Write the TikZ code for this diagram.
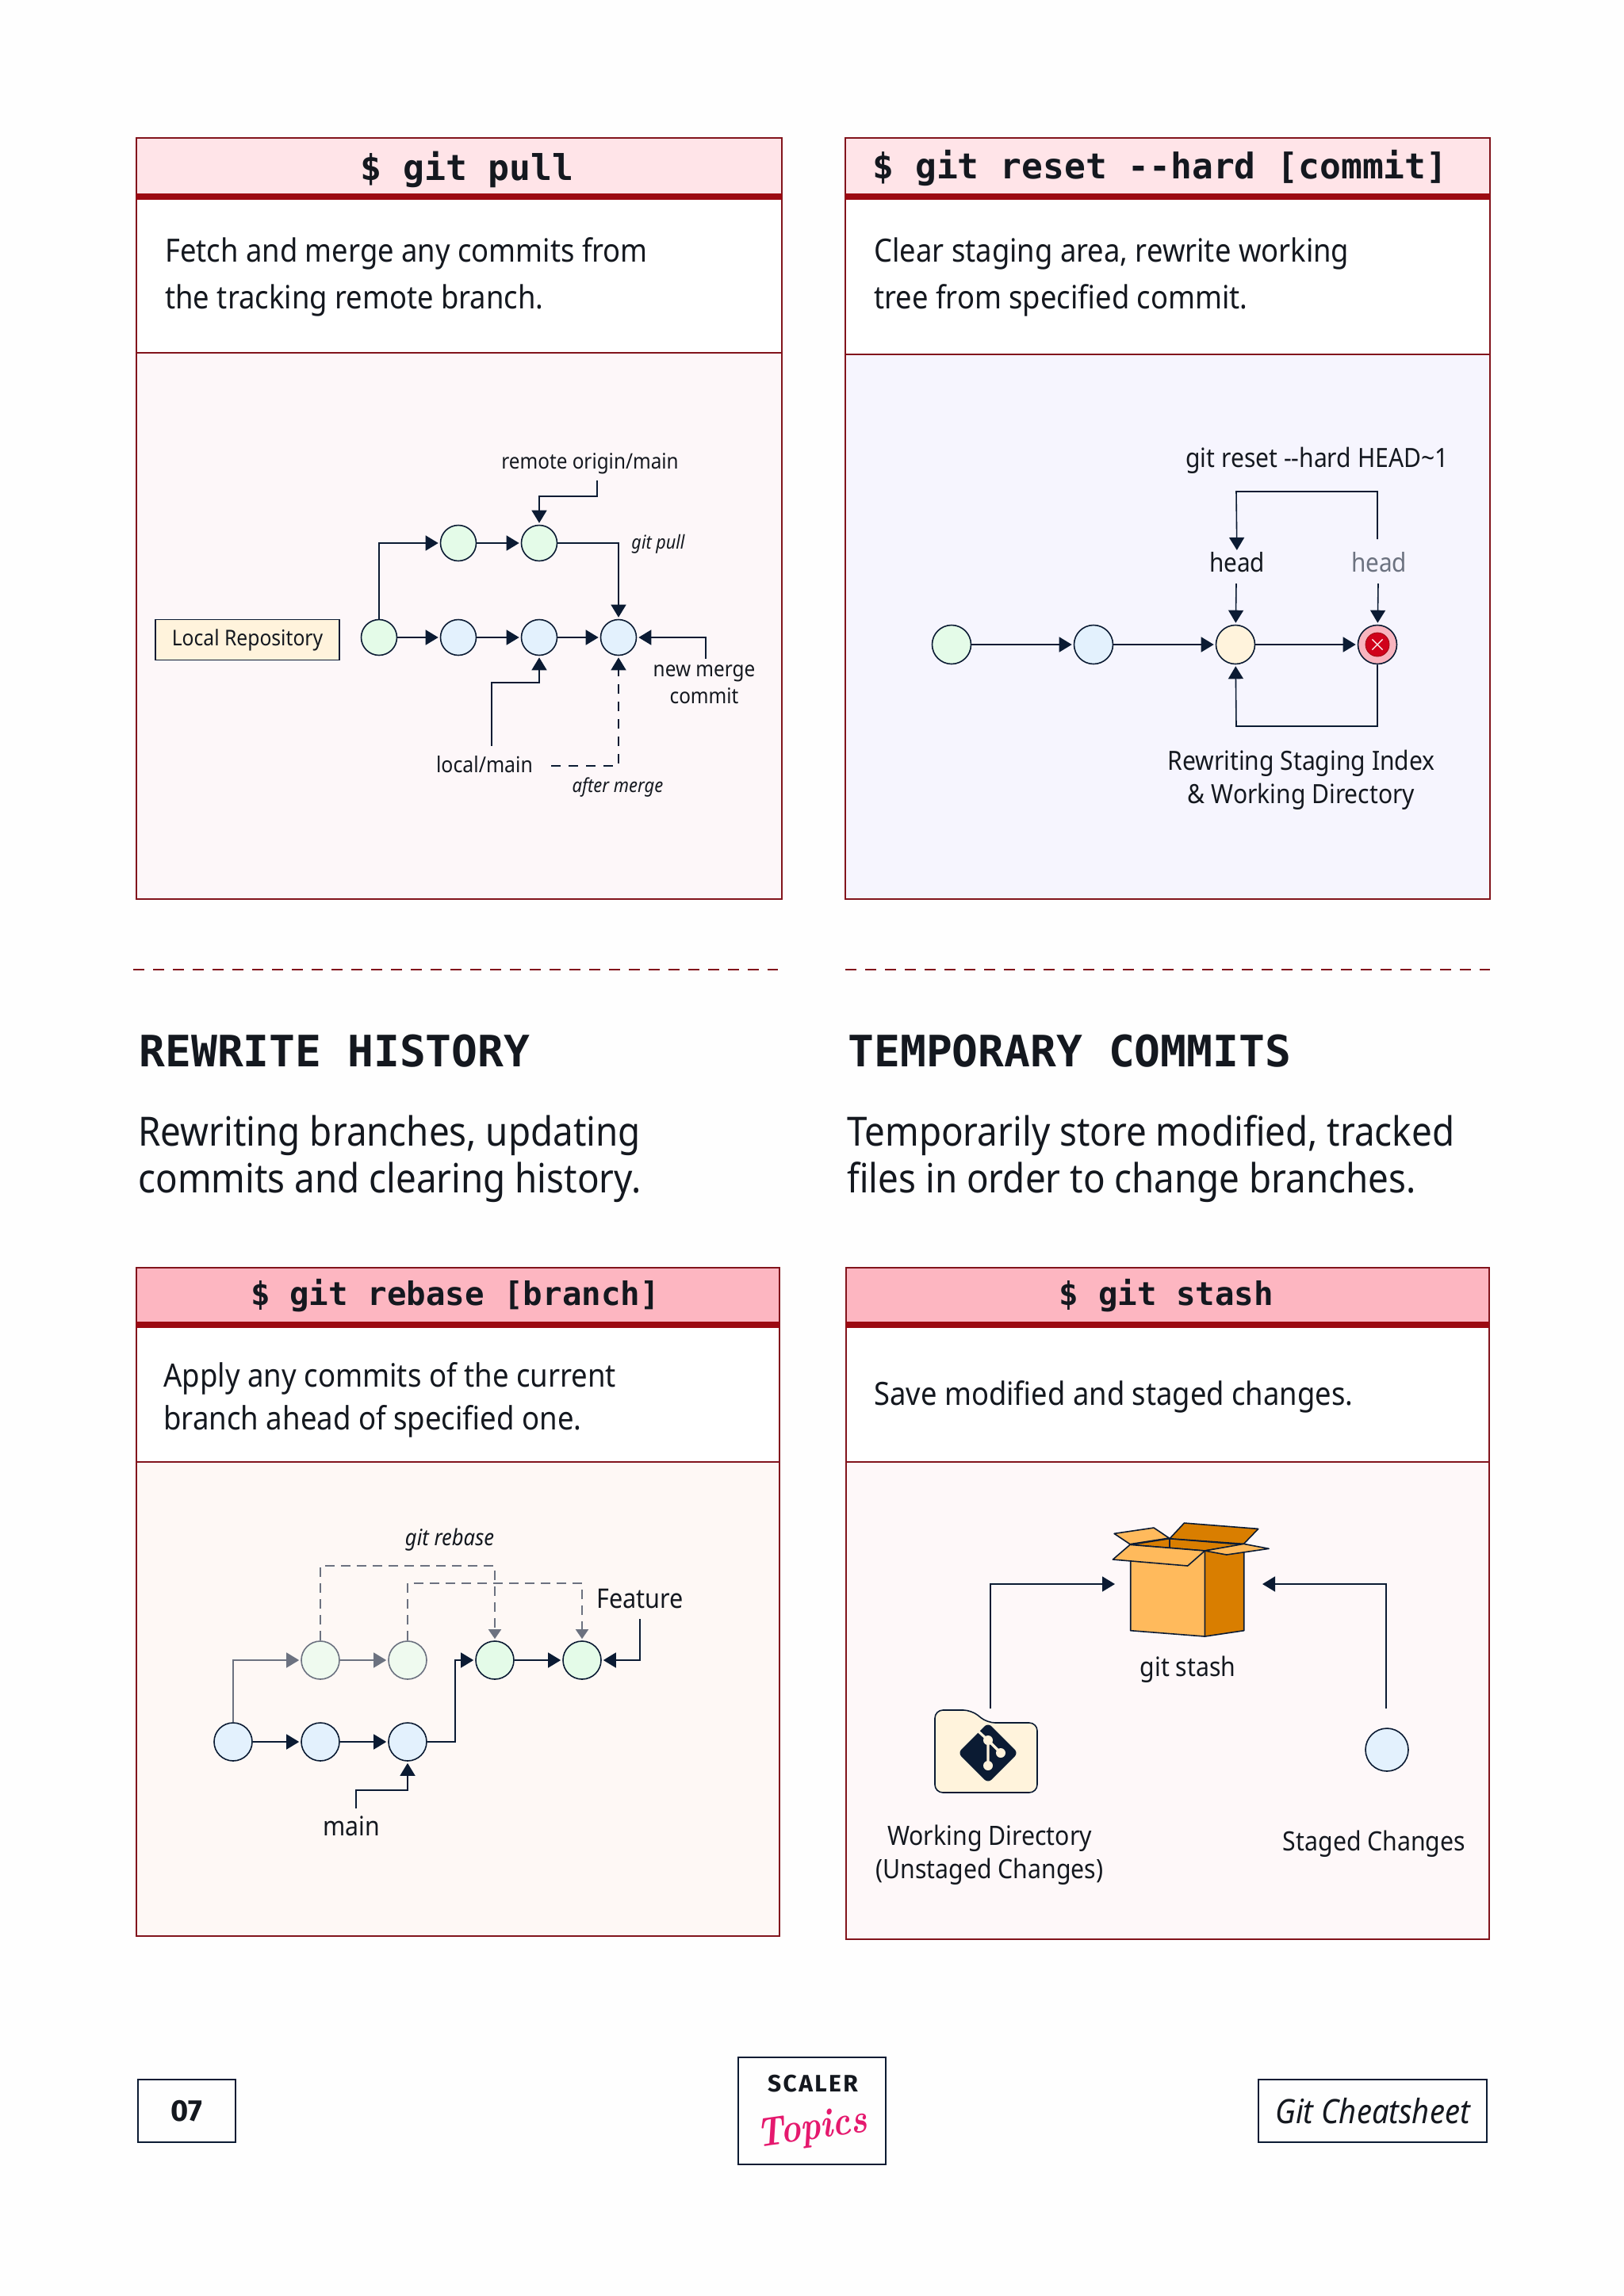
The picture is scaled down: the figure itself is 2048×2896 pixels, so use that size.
\documentclass[tikz,border=0pt]{standalone}
\usepackage{fontspec}
\setmainfont[FakeStretch=0.9]{Noto Sans}
\newfontfamily\codefont{DejaVu Sans Mono}
\newfontfamily\topicfont{Latin Modern Roman}
\newfontfamily\strongfont{Fira Sans}
\usetikzlibrary{arrows.meta,shapes.misc}
\definecolor{navy}{HTML}{0B1B33}
\definecolor{ink}{HTML}{14181F}
\definecolor{wine}{HTML}{82141C}
\definecolor{rulered}{HTML}{9C0A12}
\definecolor{fadegray}{HTML}{6C7280}
\definecolor{headpale}{HTML}{FFE4E8}
\definecolor{headpink}{HTML}{FDB6C1}
\definecolor{bodyrose}{HTML}{FDF7F9}
\definecolor{bodylilac}{HTML}{F6F5FE}
\definecolor{bodypeach}{HTML}{FEF8F5}
\definecolor{bodyblush}{HTML}{FEF8F9}
\definecolor{cgreen}{HTML}{E4FBE8}
\definecolor{cblue}{HTML}{E3F1FD}
\definecolor{ccream}{HTML}{FFF3DC}
\definecolor{cfade}{HTML}{EFFAEF}
\definecolor{cpink}{HTML}{F8B4BE}
\definecolor{cred}{HTML}{D0021B}
\definecolor{boxlight}{HTML}{FFBA5C}
\definecolor{boxdark}{HTML}{D97E00}
\definecolor{topicpink}{HTML}{E5196E}
\definecolor{pagewhite}{HTML}{FEFEFE}
\tikzset{
  commit/.style = {circle, draw=navy, line width=0.8pt, inner sep=0pt, minimum size=#1},
  commit_g/.style = {commit=#1, fill=cgreen},% vert
  commit_b/.style = {commit=#1, fill=cblue},% bleu
  commit_c/.style = {commit=#1, fill=ccream},% creme
  commit_f/.style = {commit=#1, draw=fadegray, fill=cfade},% efface
  commit_x/.style = {commit=#1, fill=cpink},% perdu
  conn/.style = {-{Triangle[length=8pt,width=9.5pt]}, draw=navy, line width=0.8pt, shorten >=1pt},
  conn_gray/.style = {conn, draw=fadegray},
  conn_dash/.style = {conn, dash pattern=on 6pt off 5pt},
  conn_gdash/.style = {conn_gray, dash pattern=on 6pt off 4pt, -{Triangle[length=6pt,width=8pt]}},
  lbl/.style = {font=\fontsize{#1}{#1}\selectfont, inner sep=0pt, align=center, text=ink},
  txt/.style 2 args = {font=\fontsize{#1}{#2}\selectfont, inner sep=0pt, align=left, anchor=north west, text=ink},
  cmd/.style = {font=\fontsize{#1}{#1}\selectfont\codefont\bfseries, inner sep=0pt, anchor=base, text=ink},
  frame/.style = {draw=wine, line width=1.2pt},
  headrule/.style = {draw=rulered, line width=4pt},
  seprule/.style = {draw=wine, line width=1.2pt, dash pattern=on 7pt off 5.5pt},
  footbox/.style = {draw=navy, line width=0.9pt},
  boxface/.style = {draw=navy, line width=0.8pt, line join=round}
}
\begin{document}
\begin{tikzpicture}[x=0.5pt,y=-0.5pt]
    \useasboundingbox (0,0) rectangle (2048,2896);
    \fill[pagewhite] (0,0) rectangle (2048,2896);

    % git pull
    \fill[bodyrose] (172,445) rectangle (986,1134);
    \fill[white] (172,248) rectangle (986,445);
    \fill[headpale] (172,174) rectangle (986,248);
    \draw[frame] (172,174) rectangle (986,1134) (172,445) -- (986,445);
    \draw[headrule] (172,248) -- (986,248);
    \node[cmd=22.4] (t1) at (589,227) {\$ git pull};
    \node[txt={20.2}{29.5}] (d1) at (208,299) {Fetch and merge any commits from\\the tracking remote branch.};
    \node[draw=navy, line width=0.7pt, fill=ccream, lbl=13.7, minimum width=116pt, minimum height=25.5pt] (repo) at (312,807) {Local Repository};
    \node[commit_g=22.5pt] (m1) at (478,804) {};
    \node[commit_b=22.5pt] (m2) at (578,804) {};
    \node[commit_b=22.5pt] (m3) at (680,804) {};
    \node[commit_b=22.5pt] (m4) at (780,804) {};
    \node[commit_g=22.5pt] (u1) at (578,685) {};
    \node[commit_g=22.5pt] (u2) at (680,685) {};
    \node[lbl=13.5] (origin) at (744,585) {remote origin/main};
    \node[lbl=12] (pull) at (830,686) {\itshape git pull};
    \node[lbl=13.5] (merge) at (888,863) {new merge\\[3.5pt]commit};
    \node[lbl=13.8] (local) at (611,964) {local/main};
    \node[lbl=12.2] (after) at (779,993) {\itshape after merge};
    \coordinate (o1) at (753,606);
    \coordinate (o2) at (753,626);
    \coordinate (n1) at (890,831);
    \coordinate (l1) at (620,941);
    \coordinate (l2) at (620,861);
    \coordinate (a1) at (695,966);
    \coordinate (a2) at (780,966);
    \draw[conn] (m1) -- (m2);
    \draw[conn] (m2) -- (m3);
    \draw[conn] (m3) -- (m4);
    \draw[conn] (u1) -- (u2);
    \draw[conn] (m1) |- (u1);
    \draw[conn] (u2) -| (m4);
    \draw[conn] (o1) -- (o2) -| (u2);
    \draw[conn] (n1) |- (m4);
    \draw[conn] (l1) -- (l2) -| (m3);
    \draw[conn_dash] (a1) -- (a2) -- (m4);

    % git reset
    \fill[bodylilac] (1066,447) rectangle (1879,1134);
    \fill[white] (1066,248) rectangle (1879,447);
    \fill[headpale] (1066,174) rectangle (1879,248);
    \draw[frame] (1066,174) rectangle (1879,1134) (1066,447) -- (1879,447);
    \draw[headrule] (1066,248) -- (1879,248);
    \node[cmd=22.3] (t2) at (1463,225) {\$ git reset -{}-hard [commit]};
    \node[txt={20.2}{29.5}] (d2) at (1102,299) {Clear staging area, rewrite working\\tree from specified commit.};
    \node[commit_g=24.5pt] (c1) at (1200,813) {};
    \node[commit_b=24.5pt] (c2) at (1379,813) {};
    \node[commit_c=24.5pt] (c3) at (1558,813) {};
    \node[commit_x=24.5pt] (c4) at (1737,813) {};
    \node[circle, fill=cred, draw=rulered, inner sep=0pt, minimum size=15pt] (c4in) at (c4) {};
    \node[cross out, draw=white, line width=0.6pt, inner sep=0pt, minimum size=6pt] (c4x) at (c4) {};
    \node[lbl=16.7] (reset) at (1661,581) {git reset -{}-hard HEAD\char"7E 1};
    \node[lbl=16.5] (h1) at (1560,709) {head};
    \node[lbl=16.5, text=fadegray] (h2) at (1739,709) {head};
    \node[lbl=16.7] (rew) at (1641,984) {Rewriting Staging Index\\[4.5pt]\& Working Directory};
    \coordinate (g1) at (1737,680);
    \coordinate (g2) at (1737,620);
    \coordinate (g3) at (1559,620);
    \coordinate (g4) at (1737,916);
    \coordinate (g5) at (1559,916);
    \coordinate (g6) at (1559,736);
    \coordinate (g7) at (1738,736);
    \draw[conn] (c1) -- (c2);
    \draw[conn] (c2) -- (c3);
    \draw[conn] (c3) -- (c4);
    \draw[conn] (g1) -- (g2) -- (g3) -- (h1);
    \draw[conn] (g6) -- (c3);
    \draw[conn] (g7) -- (c4);
    \draw[conn] (c4) -- (g4) -- (g5) -- (c3);

    % separateurs
    \draw[seprule] (168,1223) -- (981,1223);
    \draw[seprule] (1066,1223) -- (1879,1223);
    \node[cmd=27.3, anchor=base west] (s1) at (175,1345) {REWRITE HISTORY};
    \node[cmd=27.3, anchor=base west] (s2) at (1069,1345) {TEMPORARY COMMITS};
    \node[txt={25.4}{29.5}] (b1) at (174,1406) {Rewriting branches, updating\\commits and clearing history.};
    \node[txt={25.4}{29.5}] (b2) at (1068,1406) {Temporarily store modified, tracked\\files in order to change branches.};

    % git rebase
    \fill[bodypeach] (172,1844) rectangle (983,2442);
    \fill[white] (172,1671) rectangle (983,1844);
    \fill[headpink] (172,1599) rectangle (983,1671);
    \draw[frame] (172,1599) rectangle (983,2442) (172,1844) -- (983,1844);
    \draw[headrule] (172,1671) -- (983,1671);
    \node[cmd=20.4] (t3) at (574,1646) {\$ git rebase [branch]};
    \node[txt={20.3}{27.2}] (d3) at (206,1718) {Apply any commits of the current\\branch ahead of specified one.};
    \node[commit_b=24pt] (b4) at (294,2197) {};
    \node[commit_b=24pt] (b5) at (404,2197) {};
    \node[commit_b=24pt] (b6) at (514,2197) {};
    \node[commit_f=24pt] (f1) at (404,2094) {};
    \node[commit_f=24pt] (f2) at (514,2094) {};
    \node[commit_g=24pt] (n3) at (624,2094) {};
    \node[commit_g=24pt] (n4) at (734,2094) {};
    \node[lbl=14.2] (reb) at (567,1942) {\itshape git rebase};
    \node[lbl=17] (feat) at (807,2017) {Feature};
    \node[lbl=16.8] (mainb) at (443,2303) {main};
    \coordinate (e1) at (404,1975);
    \coordinate (e2) at (624,1975);
    \coordinate (e3) at (514,1997);
    \coordinate (e4) at (734,1997);
    \coordinate (e5) at (574,2197);
    \coordinate (e6) at (574,2094);
    \coordinate (e7) at (807,2042);
    \coordinate (e8) at (449,2281);
    \coordinate (e9) at (449,2258);
    \draw[conn_gray] (b4) |- (f1);
    \draw[conn_gray] (f1) -- (f2);
    \draw[conn_gdash] (f1) -- (e1) -- (e2) -- (n3);
    \draw[conn_gdash] (f2) -- (e3) -- (e4) -- (n4);
    \draw[conn] (b4) -- (b5);
    \draw[conn] (b5) -- (b6);
    \draw[conn] (b6) -- (e5) -- (e6) -- (n3);
    \draw[conn] (n3) -- (n4);
    \draw[conn] (e7) |- (n4);
    \draw[conn] (e8) -- (e9) -| (b6);

    % git stash
    \fill[bodyblush] (1067,1844) rectangle (1878,2446);
    \fill[white] (1067,1671) rectangle (1878,1844);
    \fill[headpink] (1067,1599) rectangle (1878,1671);
    \draw[frame] (1067,1599) rectangle (1878,2446) (1067,1844) -- (1878,1844);
    \draw[headrule] (1067,1671) -- (1878,1671);
    \node[cmd=20.4] (t4) at (1471,1646) {\$ git stash};
    \node[txt={20.2}{27}] (d4) at (1102,1741) {Save modified and staged changes.};
    % carton
    \begin{scope}[shift={(1140,1890)},x=0.1667pt,y=-0.1667pt]
      \filldraw[boxface, fill=boxdark] (855,175) -- (1005,152) -- (1285,175) -- (1138,198) -- cycle;
      \draw[boxface] (1005,152) -- (1005,185);
      \filldraw[boxface, fill=boxdark] (1005,152) -- (1060,93) -- (1340,115) -- (1285,172) -- cycle;
      \filldraw[boxface, fill=boxlight] (1003,150) -- (945,111) -- (795,133) -- (855,173) -- cycle;
      \filldraw[boxface, fill=boxdark] (1138,198) -- (1286,175) -- (1286,500) -- (1138,522) -- cycle;
      \filldraw[boxface, fill=boxlight] (857,200) -- (857,500) -- (1138,522) -- (1138,198) -- cycle;
      \filldraw[boxface, fill=boxlight] (855,175) -- (1138,198) -- (1073,255) -- (790,231) -- cycle;
      \filldraw[boxface, fill=boxlight] (1138,198) -- (1220,213) -- (1380,190) -- (1285,172) -- cycle;
    \end{scope}
    % dossier
    \filldraw[draw=navy, line width=0.8pt, fill=ccream, rounded corners=5pt] (1179,2157) -- (1225,2157) -- (1245,2173) -- (1308,2173) -- (1308,2261) -- (1179,2261) -- cycle;
    \fill[navy, rounded corners=3pt] (1246,2173) -- (1284,2211) -- (1246,2249) -- (1208,2211) -- cycle;
    \draw[ccream, line width=1.6pt] (1233,2183) -- (1246,2195) -- (1262,2211) (1246,2195) -- (1246,2227);
    \fill[ccream] (1246,2195) circle (3pt) (1262,2211) circle (3pt) (1246,2227) circle (3pt);
    \node[commit_b=27pt] (sc) at (1749,2207) {};
    \node[lbl=16.8] (st) at (1498,2106) {git stash};
    \node[lbl=16.8] (wd) at (1248,2340) {Working Directory\\[4pt](Unstaged Changes)};
    \node[lbl=16.8] (sg) at (1733,2326) {Staged Changes};
    \coordinate (w1) at (1249,2155);
    \coordinate (w2) at (1249,1998);
    \coordinate (w3) at (1408,1998);
    \coordinate (k1) at (1748,2155);
    \coordinate (k2) at (1748,1998);
    \coordinate (k3) at (1590,1998);
    \draw[conn] (w1) -- (w2) -- (w3);
    \draw[conn] (k1) -- (k2) -- (k3);

    % pied de page
    \node[footbox, lbl=19, minimum width=61.5pt, minimum height=39.5pt] (pg) at (235.5,2662.5) {\strongfont\bfseries 07};
    \draw[footbox] (931,2595) rectangle (1117,2730);
    \node[lbl=15] (sc1) at (1025,2628) {\strongfont\bfseries\addfontfeature{LetterSpace=8}SCALER};
    \node[inner sep=0pt, rotate=8, yscale=1.2, text=topicpink, font=\fontsize{21.5}{21.5}\selectfont\topicfont\bfseries\itshape] (sc2) at (1024,2686) {Topics};
    \node[footbox, lbl=21.2, minimum width=144pt, minimum height=39.5pt] (gc) at (1731,2662.5) {\itshape Git Cheatsheet};
\end{tikzpicture}
\end{document}
